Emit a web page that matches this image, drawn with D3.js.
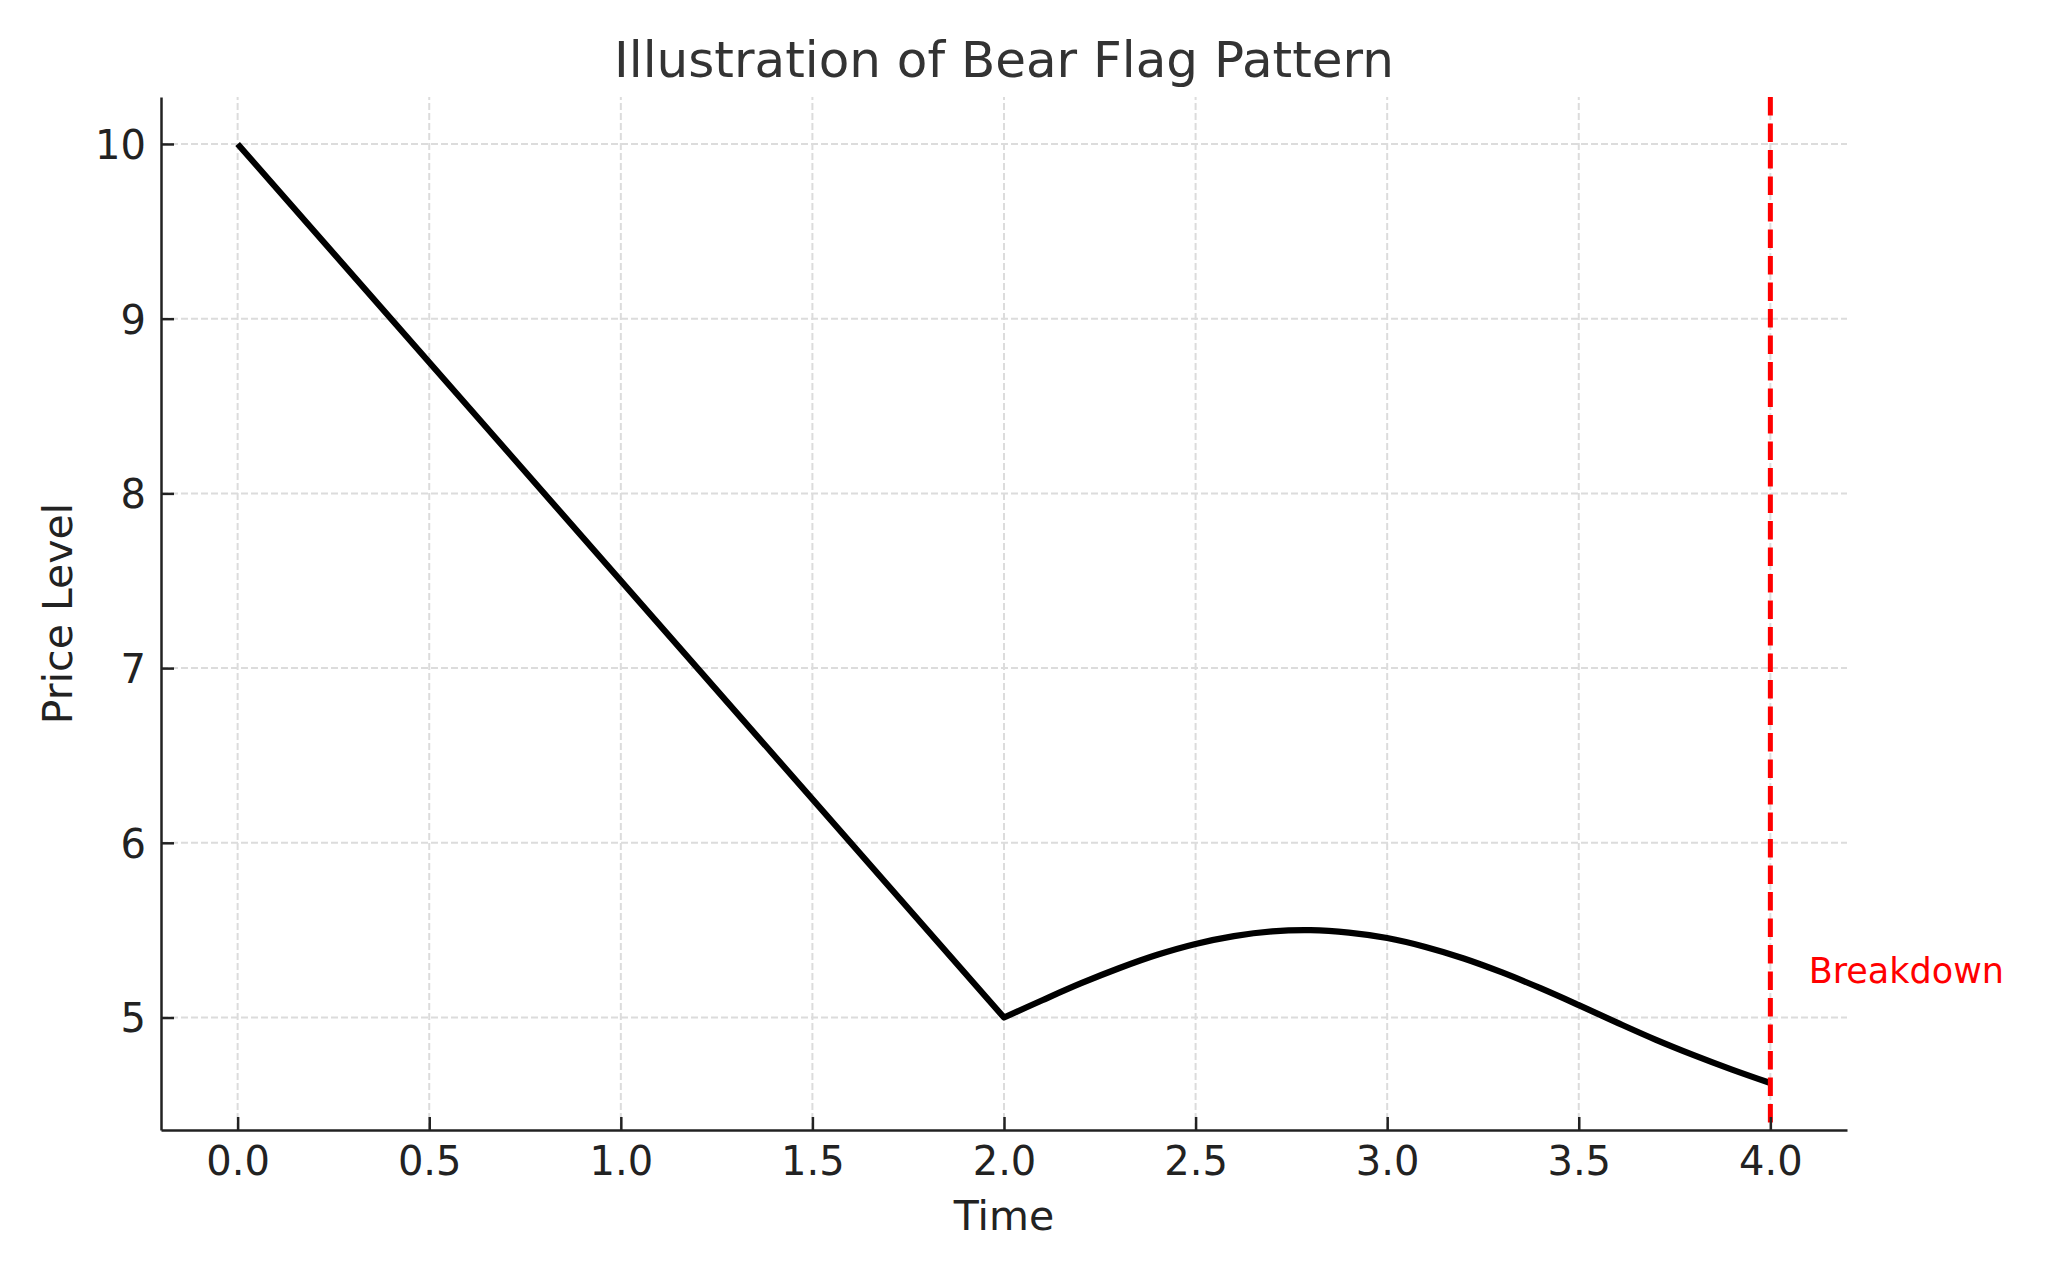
<!DOCTYPE html>
<html>
<head>
<meta charset="utf-8">
<script src="https://cdn.jsdelivr.net/npm/d3@7"></script>
<style>
  body { margin: 0; background: #fff; }
  text { font-family: "DejaVu Sans", sans-serif; }
</style>
</head>
<body>
<div id="chart"></div>
<script>
// pole: the sharp drop
var poleTime = [0, 2];
var polePrice = [10, 5];

// flag: the drift after the drop, read every 0.1
var flagTime = [2.0, 2.1, 2.2, 2.3, 2.4, 2.5, 2.6, 2.7, 2.8, 2.9, 3.0,
                3.1, 3.2, 3.3, 3.4, 3.5, 3.6, 3.7, 3.8, 3.9, 4.0];
var flagPrice = [5.000, 5.099, 5.195, 5.282, 5.359, 5.421, 5.466, 5.493, 5.500, 5.486, 5.455,
                 5.404, 5.338, 5.258, 5.168, 5.071, 4.971, 4.874, 4.785, 4.702, 4.625];

var breakdownTime = 4;
var breakdownLabel = "Breakdown";
var breakdownLabelAt = [4.1, 5.2];

var xTicks = [0, 0.5, 1, 1.5, 2, 2.5, 3, 3.5, 4];
var yTicks = [5, 6, 7, 8, 9, 10];

function init() {
    var W = 2048, H = 1280;
    var margin = { top: 97, right: 201, bottom: 150, left: 161 };

    var pole = poleTime.map(function(t, i) { return { t: t, p: polePrice[i] }; });
    var flag = flagTime.map(function(t, i) { return { t: t, p: flagPrice[i] }; });
    var all = pole.concat(flag);

    var svg = d3.select("#chart").append("svg")
        .attr("width", W)
        .attr("height", H);

    // matplotlib-like 5% padding on both axes
    var tExt = d3.extent(all, function(d) { return d.t; });
    var pExt = d3.extent(all, function(d) { return d.p; });
    var tPad = (tExt[1] - tExt[0]) * 0.05;
    var pPad = (pExt[1] - pExt[0]) * 0.05;

    var x = d3.scaleLinear()
        .domain([tExt[0] - tPad, tExt[1] + tPad])
        .range([margin.left, W - margin.right]);
    var y = d3.scaleLinear()
        .domain([pExt[0] - pPad, pExt[1] + pPad])
        .range([H - margin.bottom, margin.top]);

    // grid
    var grid = svg.append("g")
        .attr("stroke", "#dcdcdc")
        .attr("stroke-width", 2)
        .attr("stroke-dasharray", "7,3");
    grid.selectAll(".gx")
        .data(xTicks)
        .enter()
        .append("line")
        .attr("x1", function(d) { return x(d); })
        .attr("x2", function(d) { return x(d); })
        .attr("y1", y.range()[0])
        .attr("y2", y.range()[1]);
    grid.selectAll(".gy")
        .data(yTicks)
        .enter()
        .append("line")
        .attr("x1", x.range()[0])
        .attr("x2", x.range()[1])
        .attr("y1", function(d) { return y(d); })
        .attr("y2", function(d) { return y(d); });

    // price path: straight pole, smooth flag, joined in one path
    var poleLine = d3.line()
        .x(function(d) { return x(d.t); })
        .y(function(d) { return y(d.p); });
    var flagLine = d3.line()
        .x(function(d) { return x(d.t); })
        .y(function(d) { return y(d.p); })
        .curve(d3.curveCatmullRom);

    svg.append("path")
        .attr("d", poleLine(pole) + flagLine(flag).replace(/^M/, "L"))
        .attr("fill", "none")
        .attr("stroke", "#000")
        .attr("stroke-width", 6.2)
        .attr("stroke-linejoin", "round");

    // breakdown marker
    svg.append("line")
        .attr("x1", x(breakdownTime))
        .attr("x2", x(breakdownTime))
        .attr("y1", y.range()[1])
        .attr("y2", y.range()[0])
        .attr("stroke", "#ff0000")
        .attr("stroke-width", 5)
        .attr("stroke-dasharray", "18.5,8");

    svg.append("text")
        .attr("x", x(breakdownLabelAt[0]))
        .attr("y", y(breakdownLabelAt[1]))
        .attr("fill", "#ff0000")
        .style("font-size", "35px")
        .text(breakdownLabel);

    // axes, ticks point inward
    var xAxis = d3.axisBottom(x)
        .tickValues(xTicks)
        .tickFormat(d3.format(".1f"))
        .tickSizeInner(-13)
        .tickSizeOuter(0)
        .tickPadding(17);
    var yAxis = d3.axisLeft(y)
        .tickValues(yTicks)
        .tickFormat(d3.format("d"))
        .tickSizeInner(-13)
        .tickSizeOuter(0)
        .tickPadding(15);

    var gx = svg.append("g")
        .attr("transform", "translate(0," + y.range()[0] + ")")
        .call(xAxis);
    var gy = svg.append("g")
        .attr("transform", "translate(" + x.range()[0] + ",0)")
        .call(yAxis);

    [gx, gy].forEach(function(g) {
        g.selectAll("path, line")
            .attr("stroke", "#222")
            .attr("stroke-width", 2.5);
        g.selectAll("text")
            .attr("fill", "#222")
            .style("font-size", "40px")
            .style("font-family", "DejaVu Sans, sans-serif");
    });
    gy.selectAll("text").attr("dy", "0.36em");

    // labels
    svg.append("text")
        .attr("x", (x.range()[0] + x.range()[1]) / 2)
        .attr("y", 77)
        .attr("text-anchor", "middle")
        .attr("fill", "#333")
        .style("font-size", "50px")
        .text("Illustration of Bear Flag Pattern");

    svg.append("text")
        .attr("x", (x.range()[0] + x.range()[1]) / 2)
        .attr("y", 1230)
        .attr("text-anchor", "middle")
        .attr("fill", "#222")
        .style("font-size", "41px")
        .text("Time");

    svg.append("text")
        .attr("transform", "translate(72," + (y.range()[0] + y.range()[1]) / 2 + ") rotate(-90)")
        .attr("text-anchor", "middle")
        .attr("fill", "#222")
        .style("font-size", "41px")
        .text("Price Level");
}

window.onload = init;
</script>
</body>
</html>
